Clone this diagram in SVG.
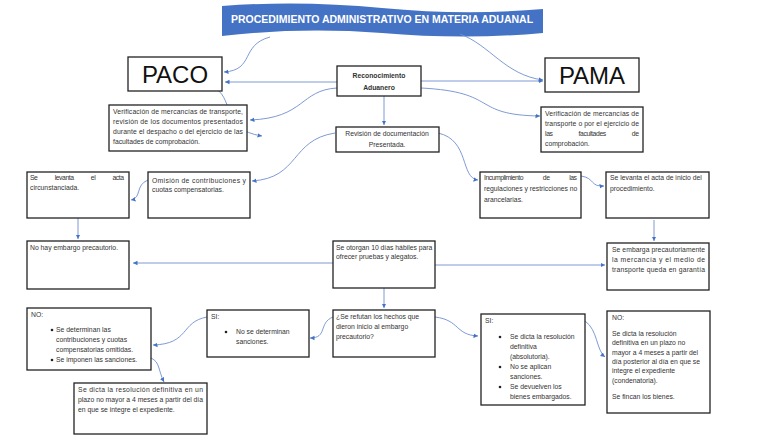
<svg xmlns="http://www.w3.org/2000/svg" width="768" height="442" viewBox="0 0 768 442">
<defs>
<marker id="a" markerWidth="6" markerHeight="6" refX="5" refY="3" orient="auto"><path d="M0,0.5 L5,3 L0,5.5z" fill="#4472C4"/></marker>
<style>
.b{fill:#fff;stroke:#222;stroke-width:1.3}
.t{font-family:"Liberation Sans",Arial,sans-serif;font-size:6.8px;fill:#333}
.c path{fill:none;stroke:#6f8fcf;stroke-width:0.9;marker-end:url(#a)}
</style>
</defs>
<rect width="768" height="442" fill="#fff"/>
<g id="title">
<path d="M222,6 Q300,0 382,8 Q465,16 543,9 L543,33 Q465,40 382,33 Q300,27 222,36 Z" fill="#4472C4"/>
<text x="382" y="23" text-anchor="middle" font-family="Liberation Sans,Arial,sans-serif" font-weight="bold" font-size="10.5" fill="#fff">PROCEDIMIENTO ADMINISTRATIVO EN MATERIA ADUANAL</text>
</g>
<g class="c" id="connectors">
<path d="M270,37 C240,45 255,70 224,72"/>
<path d="M460,34 C490,45 505,75 543,80"/>
<path d="M337,82 L225,82"/>
<path d="M421,81 L543,81"/>
<path d="M337,88 C300,90 305,118 250,120"/>
<path d="M421,88 C500,92 470,115 540,116"/>
<path d="M212,87 C235,95 220,130 262,136"/>
<path d="M384,96 L384,125"/>
<path d="M335,133 C290,140 300,178 252,181"/>
<path d="M438,133 C470,140 460,178 478,180"/>
<path d="M581,176 C595,178 590,187 604,186"/>
<path d="M148,180 C135,185 142,198 131,200"/>
<path d="M78,218 L78,239"/>
<path d="M654,220 L654,241"/>
<path d="M333,263 L133,263"/>
<path d="M435,265 L605,265"/>
<path d="M384,288 L384,308"/>
<path d="M333,317 C318,323 328,338 310,338"/>
<path d="M207,317 C180,322 190,344 153,345"/>
<path d="M435,317 C460,320 455,335 478,336"/>
<path d="M585,321 C598,330 596,350 605,357"/>
<path d="M151,358 C160,362 158,370 164,382"/>
</g>
<g id="paco"><rect class="b" x="128" y="57" width="94" height="34"/><text x="175" y="83" text-anchor="middle" font-family="Liberation Sans,Arial,sans-serif" font-size="24" fill="#111">PACO</text></g>
<g id="pama"><rect class="b" x="545" y="58" width="94" height="34"/><text x="592" y="84" text-anchor="middle" font-family="Liberation Sans,Arial,sans-serif" font-size="24" fill="#111">PAMA</text></g>
<g id="recon"><rect class="b" x="337" y="66" width="84" height="30"/><text class="t" font-weight="bold" fill="#111" x="379" y="78" text-anchor="middle">Reconocimiento</text><text class="t" font-weight="bold" x="379" y="90" text-anchor="middle" fill="#111">Aduanero</text></g>
<g id="verif-l"><rect class="b" x="109" y="105" width="138" height="46"/><text class="t" x="113" y="114" textLength="130">Verificación de mercancías de transporte,</text><text class="t" x="113" y="124" textLength="130">revisión de los documentos presentados</text><text class="t" x="113" y="134" textLength="130">durante el despacho o del ejercicio de las</text><text class="t" x="113" y="144">facultades de comprobación.</text></g>
<g id="revision"><rect class="b" x="336" y="127" width="103" height="25"/><text class="t" x="387" y="136" text-anchor="middle" fill="#111">Revisión de documentación</text><text class="t" x="387" y="147" text-anchor="middle" fill="#111">Presentada.</text></g>
<g id="verif-r"><rect class="b" x="541" y="107" width="102" height="45"/><text class="t" x="545" y="116" textLength="94">Verificación de mercancías de</text><text class="t" x="545" y="126" textLength="94">transporte o por el ejercicio de</text><text class="t" x="545" y="136" textLength="94" lengthAdjust="spacing" xml:space="preserve">las                 facultades                 de</text><text class="t" x="545" y="146">comprobación.</text></g>
<g id="acta-c"><rect class="b" x="27" y="172" width="102" height="46"/><text class="t" x="30" y="180" textLength="94" xml:space="preserve">Se            levanta            el            acta</text><text class="t" x="30" y="190">circunstanciada.</text></g>
<g id="omision"><rect class="b" x="148" y="172" width="102" height="46"/><text class="t" x="152" y="183" textLength="94">Omisión de contribuciones y</text><text class="t" x="152" y="192">cuotas compensatorias.</text></g>
<g id="incump"><rect class="b" x="480" y="172" width="101" height="46"/><text class="t" x="484" y="180" textLength="93" xml:space="preserve">Incumplimiento              de              las</text><text class="t" x="484" y="191">regulaciones y restricciones no</text><text class="t" x="484" y="202">arancelarias.</text></g>
<g id="acta-i"><rect class="b" x="606" y="172" width="103" height="46"/><text class="t" x="610" y="180">Se levanta el acta de inicio del</text><text class="t" x="610" y="191">procedimiento.</text></g>
<g id="noemb"><rect class="b" x="27" y="241" width="102" height="48"/><text class="t" x="30" y="250">No hay embargo precautorio.</text></g>
<g id="diez"><rect class="b" x="333" y="241" width="102" height="47"/><text class="t" x="336" y="250">Se otorgan 10 días hábiles para</text><text class="t" x="336" y="259">ofrecer pruebas y alegatos.</text></g>
<g id="embarga"><rect class="b" x="607" y="243" width="102" height="47"/><text class="t" x="612" y="252" textLength="93">Se embarga precautoriamente</text><text class="t" x="612" y="262" textLength="93">la mercancía y el medio de</text><text class="t" x="612" y="272" textLength="93">transporte queda en garantía</text></g>
<g id="no-l"><rect class="b" x="27" y="308" width="124" height="62"/><text class="t" x="31" y="317">NO:</text><circle cx="52" cy="330" r="1.3" fill="#222"/><text class="t" x="56" y="332">Se determinan las</text><text class="t" x="56" y="342">contribuciones y cuotas</text><text class="t" x="56" y="352">compensatorias omitidas.</text><circle cx="52" cy="360" r="1.3" fill="#222"/><text class="t" x="56" y="362">Se imponen las sanciones.</text></g>
<g id="si-l"><rect class="b" x="207" y="310" width="102" height="47"/><text class="t" x="211" y="319">SI:</text><circle cx="226" cy="332" r="1.3" fill="#222"/><text class="t" x="236" y="334">No se determinan</text><text class="t" x="236" y="344">sanciones.</text></g>
<g id="refutan"><rect class="b" x="333" y="310" width="102" height="47"/><text class="t" x="336" y="319">¿Se refutan los hechos que</text><text class="t" x="336" y="329">dieron inicio al embargo</text><text class="t" x="336" y="339">precautorio?</text></g>
<g id="si-r"><rect class="b" x="481" y="314" width="104" height="91"/><text class="t" x="485" y="323">SI:</text><circle cx="500" cy="337" r="1.3" fill="#222"/><text class="t" x="510" y="339">Se dicta la resolución</text><text class="t" x="510" y="349">definitiva</text><text class="t" x="510" y="359">(absolutoria).</text><circle cx="500" cy="367" r="1.3" fill="#222"/><text class="t" x="510" y="369">No se aplican</text><text class="t" x="510" y="379">sanciones.</text><circle cx="500" cy="387" r="1.3" fill="#222"/><text class="t" x="510" y="389">Se devuelven los</text><text class="t" x="510" y="399">bienes embargados.</text></g>
<g id="no-r"><rect class="b" x="607" y="311" width="103" height="102"/><text class="t" x="612" y="320">NO:</text><text class="t" x="612" y="336">Se dicta la resolución</text><text class="t" x="612" y="345">definitiva en un plazo no</text><text class="t" x="612" y="355">mayor a 4 meses a partir del</text><text class="t" x="612" y="364">día posterior al día en que se</text><text class="t" x="612" y="373">integre el expediente</text><text class="t" x="612" y="383">(condenatoria).</text><text class="t" x="612" y="399">Se fincan los bienes.</text></g>
<g id="dicta"><rect class="b" x="74" y="383" width="133" height="51"/><text class="t" x="78" y="392" textLength="125">Se dicta la resolución definitiva en un</text><text class="t" x="78" y="402" textLength="125">plazo no mayor a 4 meses a partir del día</text><text class="t" x="78" y="412">en que se integre el expediente.</text></g>
</svg>
